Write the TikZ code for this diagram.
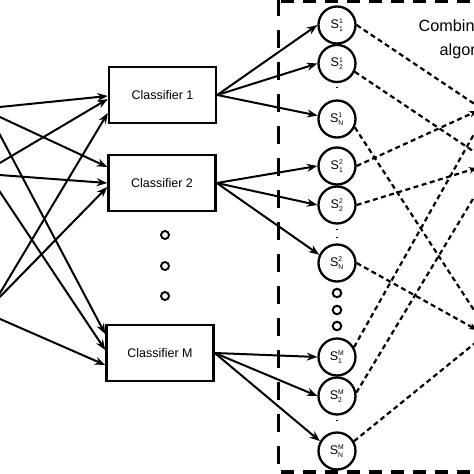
\documentclass[tikz,border=0pt]{standalone}
\usepackage{fontspec}
\setmainfont{Liberation Sans}
\usepackage{amsmath}
\usetikzlibrary{arrows.meta}
\newcommand{\slab}[2]{S$^{\text{\fontsize{6.8}{7}\selectfont #1}}_{\text{\fontsize{6.8}{7}\selectfont #2}}$}
\begin{document}
\begin{tikzpicture}[x=1pt,y=-1pt,
  clsbox/.style={draw, line width=2.5pt, minimum width=107pt, minimum height=56pt, inner sep=0pt, font=\fontsize{12.5}{14}\selectfont},
  scirc/.style={draw, circle, line width=2.3pt, minimum size=37pt, inner sep=0pt, font=\fontsize{12.5}{14}\selectfont},
  smallov/.style={draw, circle, line width=1.9pt, minimum size=8pt, inner sep=0pt},
  solidarr/.style={line width=2pt, -{Stealth[length=10.5pt,width=8pt]}},
  dasharr/.style={line width=2.2pt, dash pattern=on 5pt off 3.5pt, -{Stealth[length=8pt,width=6.5pt]}},
  dotline/.style={line width=1.6pt, dash pattern=on 1.3pt off 7pt, shorten <=4pt, shorten >=4pt},
  boxv/.style={line width=3pt, dash pattern=on 18pt off 14pt},
  boxh/.style={line width=3.2pt, dash pattern=on 13pt off 9pt},
  combtext/.style={anchor=base west, inner sep=0pt, font=\fontsize{16.2}{18}\selectfont}
]
\useasboundingbox (0,0) rectangle (474,474);
\clip (0,0) rectangle (474,474);

% dashed frame of the combination part
\draw[boxv] (278,-2) -- (278,480);
\draw[boxh] (281,1.5) -- (480,1.5);
\draw[boxh] (281,472) -- (480,472);

\node[combtext] (comb1) at (418.5,31.5) {Combination};
\node[combtext] (comb2) at (439.5,55) {algorithm};

% classifiers
\node[clsbox] (c1) at (162.5,95) {Classifier 1};
\node[clsbox] (c2) at (162,183) {Classifier 2};
\node[clsbox] (cm) at (160,353) {Classifier M};
\node[smallov] (e1) at (165,235) {};
\node[smallov] (e2) at (165,266) {};
\node[smallov] (e3) at (165,296) {};

% score nodes
\node[scirc] (s11) at (337,25) {\slab{1}{1}};
\node[scirc] (s21) at (337,63.5) {\slab{1}{2}};
\node[scirc] (sn1) at (337,119) {\slab{1}{N}};
\node[scirc] (s12) at (337,166) {\slab{2}{1}};
\node[scirc] (s22) at (337,205) {\slab{2}{2}};
\node[scirc] (sn2) at (337,263) {\slab{2}{N}};
\node[scirc] (s1m) at (337,357) {\slab{M}{1}};
\node[scirc] (s2m) at (337,396) {\slab{M}{2}};
\node[scirc] (snm) at (337,451) {\slab{M}{N}};
\node[smallov, minimum size=8.5pt, line width=2pt] (d1) at (337,293) {};
\node[smallov, minimum size=8.5pt, line width=2pt] (d2) at (337,310) {};
\node[smallov, minimum size=8.5pt, line width=2pt] (d3) at (337,326) {};
\draw[dotline] (s21.south) -- (sn1.north);
\draw[dotline] (s22.south) -- (sn2.north);
\draw[dotline] (s2m.south) -- (snm.north);

% inputs (outside the visible area)
\coordinate (a1) at (-10,108);
\coordinate (a2) at (-10,112.4);
\coordinate (a3) at (-10,116);
\coordinate (b1) at (-10,168.8);
\coordinate (b2) at (-10,174.3);
\coordinate (b3) at (-10,177);
\coordinate (g1) at (-10,309.7);
\coordinate (g2) at (-10,307);
\coordinate (g3) at (-10,314.6);
\draw[solidarr] (a1) -- ([yshift=-1pt]c1.west);
\draw[solidarr] (a2) -- ([yshift=16pt]c2.west);
\draw[solidarr] (a3) -- ([yshift=19pt]cm.west);
\draw[solidarr] (b1) -- ([yshift=-4pt]c1.west);
\draw[solidarr] (b2) -- (c2.west);
\draw[solidarr] (b3) -- ([yshift=3pt]cm.west);
\draw[solidarr] (g1) -- ([yshift=-18pt]c1.west);
\draw[solidarr] (g2) -- ([yshift=-4pt]c2.west);
\draw[solidarr] (g3) -- ([yshift=-12pt]cm.west);

% classifiers to scores
\draw[solidarr] (c1.east) -- (s11.west);
\draw[solidarr] (c1.east) -- (s21.west);
\draw[solidarr] (c1.east) -- (sn1.170);
\draw[solidarr] (c2.east) -- (s12.west);
\draw[solidarr] (c2.east) -- (s22.west);
\draw[solidarr] (c2.east) -- (sn2.155);
\draw[solidarr] (cm.east) -- (s1m.west);
\draw[solidarr] (cm.east) -- (s2m.west);
\draw[solidarr] (cm.east) -- (snm.150);

% scores to combination (targets beyond the right edge)
\coordinate (t11) at (485,111);
\coordinate (t21) at (485,159);
\coordinate (tn1) at (485,327);
\coordinate (t12) at (477,111);
\coordinate (t22) at (477,168);
\coordinate (tn2) at (477,330);
\coordinate (t1m) at (485,114.5);
\coordinate (t2m) at (485,179);
\coordinate (tnm) at (485,335);
\draw[dasharr] (s11.east) -- (t11);
\draw[dasharr] (s21.-25) -- (t21);
\draw[dasharr] (sn1.-25) -- (tn1);
\draw[dasharr] (s12.east) -- (t12);
\draw[dasharr] (s22.east) -- (t22);
\draw[dasharr] (sn2.east) -- (tn2);
\draw[dasharr] (s1m.30) -- (t1m);
\draw[dasharr] (s2m.10) -- (t2m);
\draw[dasharr] (snm.30) -- (tnm);
\end{tikzpicture}
\end{document}
